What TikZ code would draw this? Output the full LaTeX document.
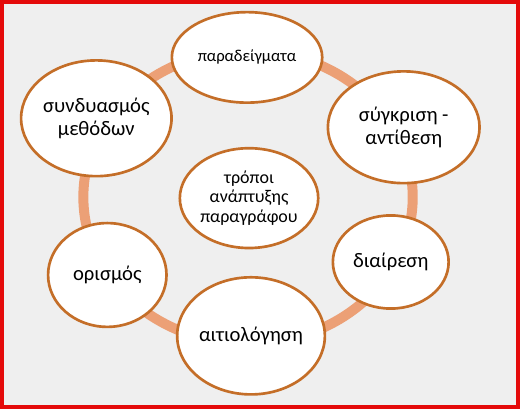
\documentclass[tikz,border=0pt]{standalone}
\usepackage{fontspec}
\setmainfont{Carlito}
\usepackage{tikz}
\usetikzlibrary{shapes.geometric, positioning}
\definecolor{ringorange}{RGB}{236, 160, 118}
\definecolor{rimbrown}{RGB}{196, 110, 40}
\definecolor{paperbg}{RGB}{239, 239, 239}
\definecolor{framered}{RGB}{228, 10, 10}

\begin{document}
\begin{tikzpicture}[
    x=0.75pt, y=-0.75pt,
    bubble/.style={ellipse, draw=rimbrown, line width=2pt, fill=white, inner sep=0pt, align=center, font=\fontsize{15.5}{17}\selectfont},
    ring/.style={draw=ringorange, line width=7.5pt}
]
    % background and frame
    \fill[paperbg] (0,0) rectangle (520,409);
    \draw[framered, line width=3pt] (1.5,1.5) rectangle (518.5,407.5);
    \useasboundingbox (0,0) rectangle (520,409);

    \coordinate (hub) at (248,197);
    \draw[ring] (hub) ellipse [x radius=165, y radius=147];

    \node[bubble, minimum width=113pt, minimum height=68pt, font=\fontsize{12.5}{14}\selectfont] (examples) at (247,57) {παραδείγματα};
    \node[bubble, minimum width=114pt, minimum height=84pt] (compare) at (404,127) {σύγκριση -\\αντίθεση};
    \node[bubble, minimum width=87pt, minimum height=70pt] (division) at (391,262) {διαίρεση};
    \node[bubble, minimum width=111pt, minimum height=88pt] (cause) at (251,336) {αιτιολόγηση};
    \node[bubble, minimum width=89pt, minimum height=78pt] (definition) at (107,275) {ορισμός};
    \node[bubble, minimum width=107pt, minimum height=87pt] (combined) at (96,118) {συνδυασμός\\μεθόδων};
    \node[bubble, minimum width=104pt, minimum height=75pt, font=\fontsize{13.5}{15}\selectfont] (methods) at (249,198) {τρόποι\\ανάπτυξης\\παραγράφου};
\end{tikzpicture}
\end{document}
